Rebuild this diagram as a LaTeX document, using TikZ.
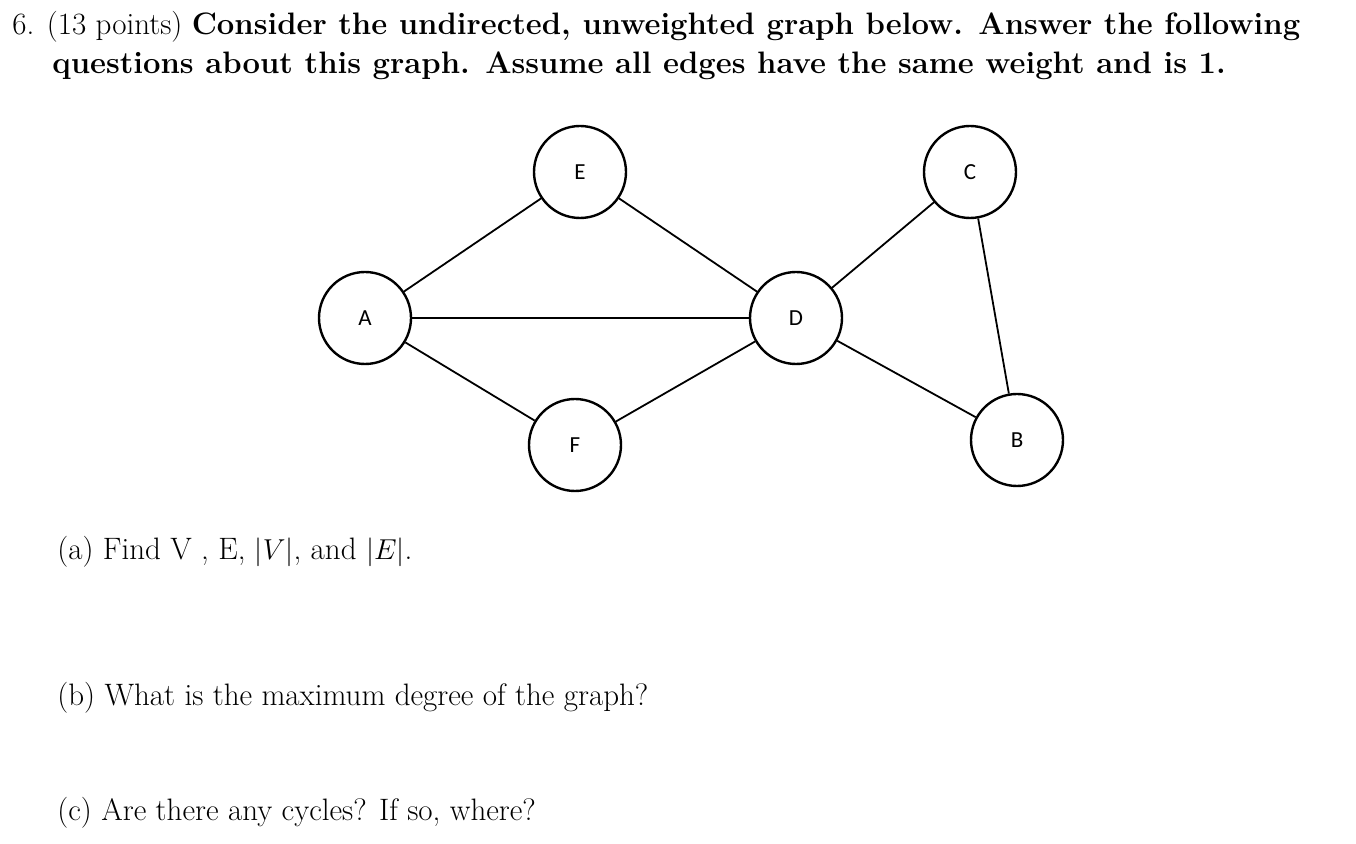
\documentclass[tikz,border=0pt]{standalone}
\usepackage{fontspec}
\newfontfamily\lbl{Carlito}
\begin{document}
\begin{tikzpicture}[x=0.5pt,y=-0.5pt,
  vtx/.style={draw,line width=1.2pt,circle,minimum size=46pt,inner sep=0pt,font=\lbl\fontsize{11.5}{13}\selectfont},
  edge/.style={line width=0.9pt},
  txt/.style={anchor=base west,inner sep=0pt,font=\fontsize{15.5}{18}\selectfont}]
\useasboundingbox (0,0) rectangle (1356,844);
\node[txt] (t1) at (12,35) {6. (13 points) \textbf{Consider the undirected, unweighted graph below. Answer the following}};
\node[txt] (t2) at (52,74) {\textbf{questions about this graph. Assume all edges have the same weight and is 1.}};
\node[vtx] (E) at (580,172) {E};
\node[vtx] (C) at (970,172) {C};
\node[vtx] (A) at (365,318) {A};
\node[vtx] (D) at (796,318) {D};
\node[vtx] (F) at (575,445) {F};
\node[vtx] (B) at (1017,440) {B};
\draw[edge] (A)--(E) (A)--(D) (A)--(F) (E)--(D) (F)--(D) (D)--(C) (D)--(B) (C)--(B);
\node[txt] (qa) at (57,560) {(a) Find V , E, $|V|$, and $|E|$.};
\node[txt] (qb) at (57,705) {(b) What is the maximum degree of the graph?};
\node[txt] (qc) at (57,820) {(c) Are there any cycles? If so, where?};
\end{tikzpicture}
\end{document}
